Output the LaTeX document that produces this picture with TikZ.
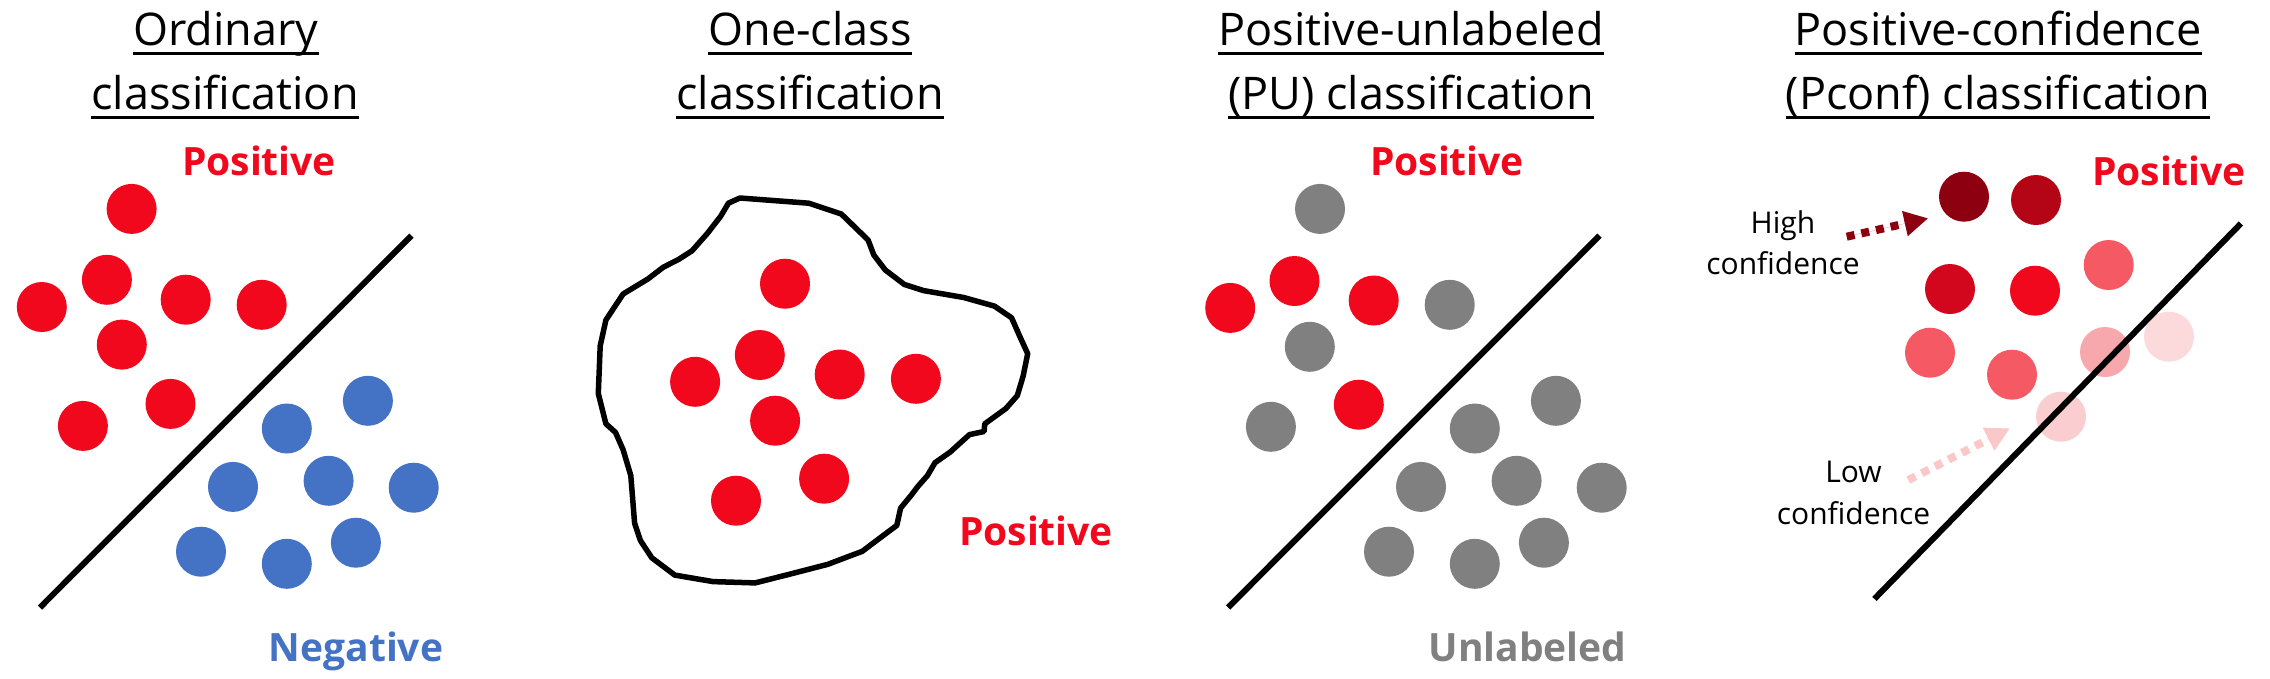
\documentclass[tikz,border=0pt]{standalone}
\usepackage{fontspec}
\setmainfont{Open Sans}
\usetikzlibrary{arrows.meta}
\definecolor{pred}{RGB}{242,8,28}
\definecolor{pblue}{RGB}{68,114,196}
\definecolor{pgray}{RGB}{128,128,128}
\definecolor{cA}{RGB}{140,0,16}
\definecolor{cB}{RGB}{180,5,22}
\definecolor{cC}{RGB}{210,6,28}
\definecolor{cD}{RGB}{245,90,100}
\definecolor{cE}{RGB}{247,168,172}
\definecolor{cF}{RGB}{250,206,208}
\definecolor{cG}{RGB}{252,218,220}
\definecolor{lowarrow}{RGB}{250,200,200}
\begin{document}
\begin{tikzpicture}[x=1pt,y=-1pt,
  dotn/.style={circle,inner sep=0pt,minimum size=50pt,draw=none},
  title/.style={font=\fontsize{45}{54}\selectfont,inner sep=0pt,anchor=base},
  big/.style={font=\fontsize{39}{47}\selectfont\bfseries,inner sep=0pt,anchor=base},
  small/.style={font=\fontsize{30}{40}\selectfont,inner sep=0pt,anchor=base},
  uline/.style={line width=3pt},
  divider/.style={line width=6pt},
  blob/.style={line width=5.5pt,line join=round},
  confarrow/.style={line width=8pt,dash pattern=on 8pt off 7pt,-{Triangle[length=24pt,width=24pt]}}
]
\useasboundingbox (0,0) rectangle (2270,678);

% ---------- titles ----------
\node[title] (t1a) at (226,45) {Ordinary};
\node[title] (t1b) at (225,109) {classification};
\node[title] (t2a) at (810,45) {One-class};
\node[title] (t2b) at (810,109) {classification};
\node[title] (t3a) at (1411,45) {Positive-unlabeled};
\node[title] (t3b) at (1411,109) {(PU) classification};
\node[title] (t4a) at (1998,45) {Positive-confidence};
\node[title] (t4b) at (1998,109) {(Pconf) classification};
\foreach \t in {t1a,t1b,t2a,t2b,t3a,t3b,t4a,t4b}
  \draw[uline] ([yshift=-8pt]\t.base west) -- ([yshift=-8pt]\t.base east);

% ---------- panel 1: ordinary ----------
\node[big,text=pred] (pos1) at (259,175) {Positive};
\node[big,text=pblue] (neg1) at (356,661.6) {Negative};
\foreach \p [count=\i] in {(131.6,208.9),(106.9,279.8),(41.8,307),(185.7,299.7),(261.7,304.8),(121.8,344.6),(170.5,403.9),(82.9,425.9)}
  \node[dotn,fill=pred] (r1\i) at \p {};
\foreach \p [count=\i] in {(367.9,400.8),(286.8,428.5),(233,486.9),(328.6,480.8),(413.7,487.7),(201,551.7),(286.8,563.8),(355.9,542.7)}
  \node[dotn,fill=pblue] (b1\i) at \p {};
\coordinate (l1a) at (411.5,235.7);
\coordinate (l1b) at (40,607.5);
\draw[divider] (l1a) -- (l1b);

% ---------- panel 2: one-class ----------
\draw[blob] plot coordinates {(739.9,198) (808.8,203.2) (841.3,214) (868.1,240) (873.8,255) (885.3,270) (904.4,284.5) (923.6,290.6) (963.7,297.5) (994.4,306.1) (1011.6,317.8) (1019.2,335.1) (1027.7,353.7) (1023.1,376.2) (1017.3,395.6) (1005.8,408.6) (984.8,423.8) (984,431.5) (969.5,434.6) (959.9,443.2) (950.4,451.9) (935,462.7) (927.4,475.6) (917.8,486.5) (911.3,495.1) (900.6,508.1) (896.8,525.4) (879.5,538.3) (862.3,551.3) (850.8,555.6) (827.9,564.3) (789.6,574.2) (755.2,582.9) (713.1,581.6) (674.8,575.1) (651.8,557.8) (640.4,540.5) (634.6,523.2) (630.8,475.6) (623.1,449.7) (615.5,432.4) (605.9,423.8) (598.3,393.5) (600.2,345.9) (605.9,320) (623.1,294) (648,278.9) (663.3,267.2) (678.6,259.4) (692,250.8) (707.3,233.5) (720.7,216.2) (728.4,203.2)} -- cycle;
\foreach \p [count=\i] in {(785,283.7),(759.8,355),(695.1,381.8),(839.7,374.5),(915.9,378.8),(775.1,420.7),(824.1,478.7),(736,500.7)}
  \node[dotn,fill=pred] (r2\i) at \p {};
\node[big,text=pred] (pos2) at (1036,545.7) {Positive};

% ---------- panel 3: PU ----------
\node[big,text=pred] (pos3) at (1447,175) {Positive};
\node[big,text=pgray] (unl3) at (1527.6,661.6) {Unlabeled};
\node[dotn,fill=pgray] (u31) at (1320,208.9) {};
\node[dotn,fill=pred]  (r32) at (1294.5,281) {};
\node[dotn,fill=pred]  (r33) at (1230.2,307.9) {};
\node[dotn,fill=pred]  (r34) at (1373.7,300.5) {};
\node[dotn,fill=pgray] (u35) at (1449.7,304.8) {};
\node[dotn,fill=pgray] (u36) at (1309.8,346.8) {};
\node[dotn,fill=pred]  (r37) at (1358.8,404.7) {};
\node[dotn,fill=pgray] (u38) at (1270.9,426.8) {};
\foreach \p [count=\i] in {(1555.9,400.8),(1474.8,428.5),(1421,486.9),(1516.6,480.8),(1601.7,487.7),(1389,551.7),(1474.8,563.8),(1543.9,542.7)}
  \node[dotn,fill=pgray] (g3\i) at \p {};
\coordinate (l3a) at (1599.5,235.7);
\coordinate (l3b) at (1228,607.5);
\draw[divider] (l3a) -- (l3b);

% ---------- panel 4: Pconf ----------
\node[big,text=pred] (pos4) at (2169,185) {Positive};
\node[dotn,fill=cA] (d41) at (1964,196.7) {};
\node[dotn,fill=cB] (d42) at (2036,200) {};
\node[dotn,fill=cD] (d43) at (2108.7,265) {};
\node[dotn,fill=cC] (d44) at (1950,289) {};
\node[dotn,fill=pred] (d45) at (2035,290.7) {};
\node[dotn,fill=cD] (d46) at (1930,352.7) {};
\node[dotn,fill=cD] (d47) at (2012,374.7) {};
\node[dotn,fill=cE] (d48) at (2105,352) {};
\node[dotn,fill=cG] (d49) at (2169,336.7) {};
\node[dotn,fill=cF] (d410) at (2061,416.7) {};
\coordinate (l4a) at (2240.9,223.5);
\coordinate (l4b) at (1874.4,598.9);
\draw[divider] (l4a) -- (l4b);

\node[small] (hi1) at (1783,233.5) {High};
\node[small] (hi2) at (1783,274) {confidence};
\node[small] (lo1) at (1853.5,482) {Low};
\node[small] (lo2) at (1853.5,524) {confidence};
\coordinate (ha) at (1846.7,236.7);
\coordinate (hb) at (1928.3,218.3);
\draw[confarrow,draw=cA,fill=cA] (ha) -- (hb);
\coordinate (la) at (1908.3,480);
\coordinate (lb) at (2010,428.3);
\draw[confarrow,draw=lowarrow,fill=lowarrow] (la) -- (lb);
\end{tikzpicture}
\end{document}
